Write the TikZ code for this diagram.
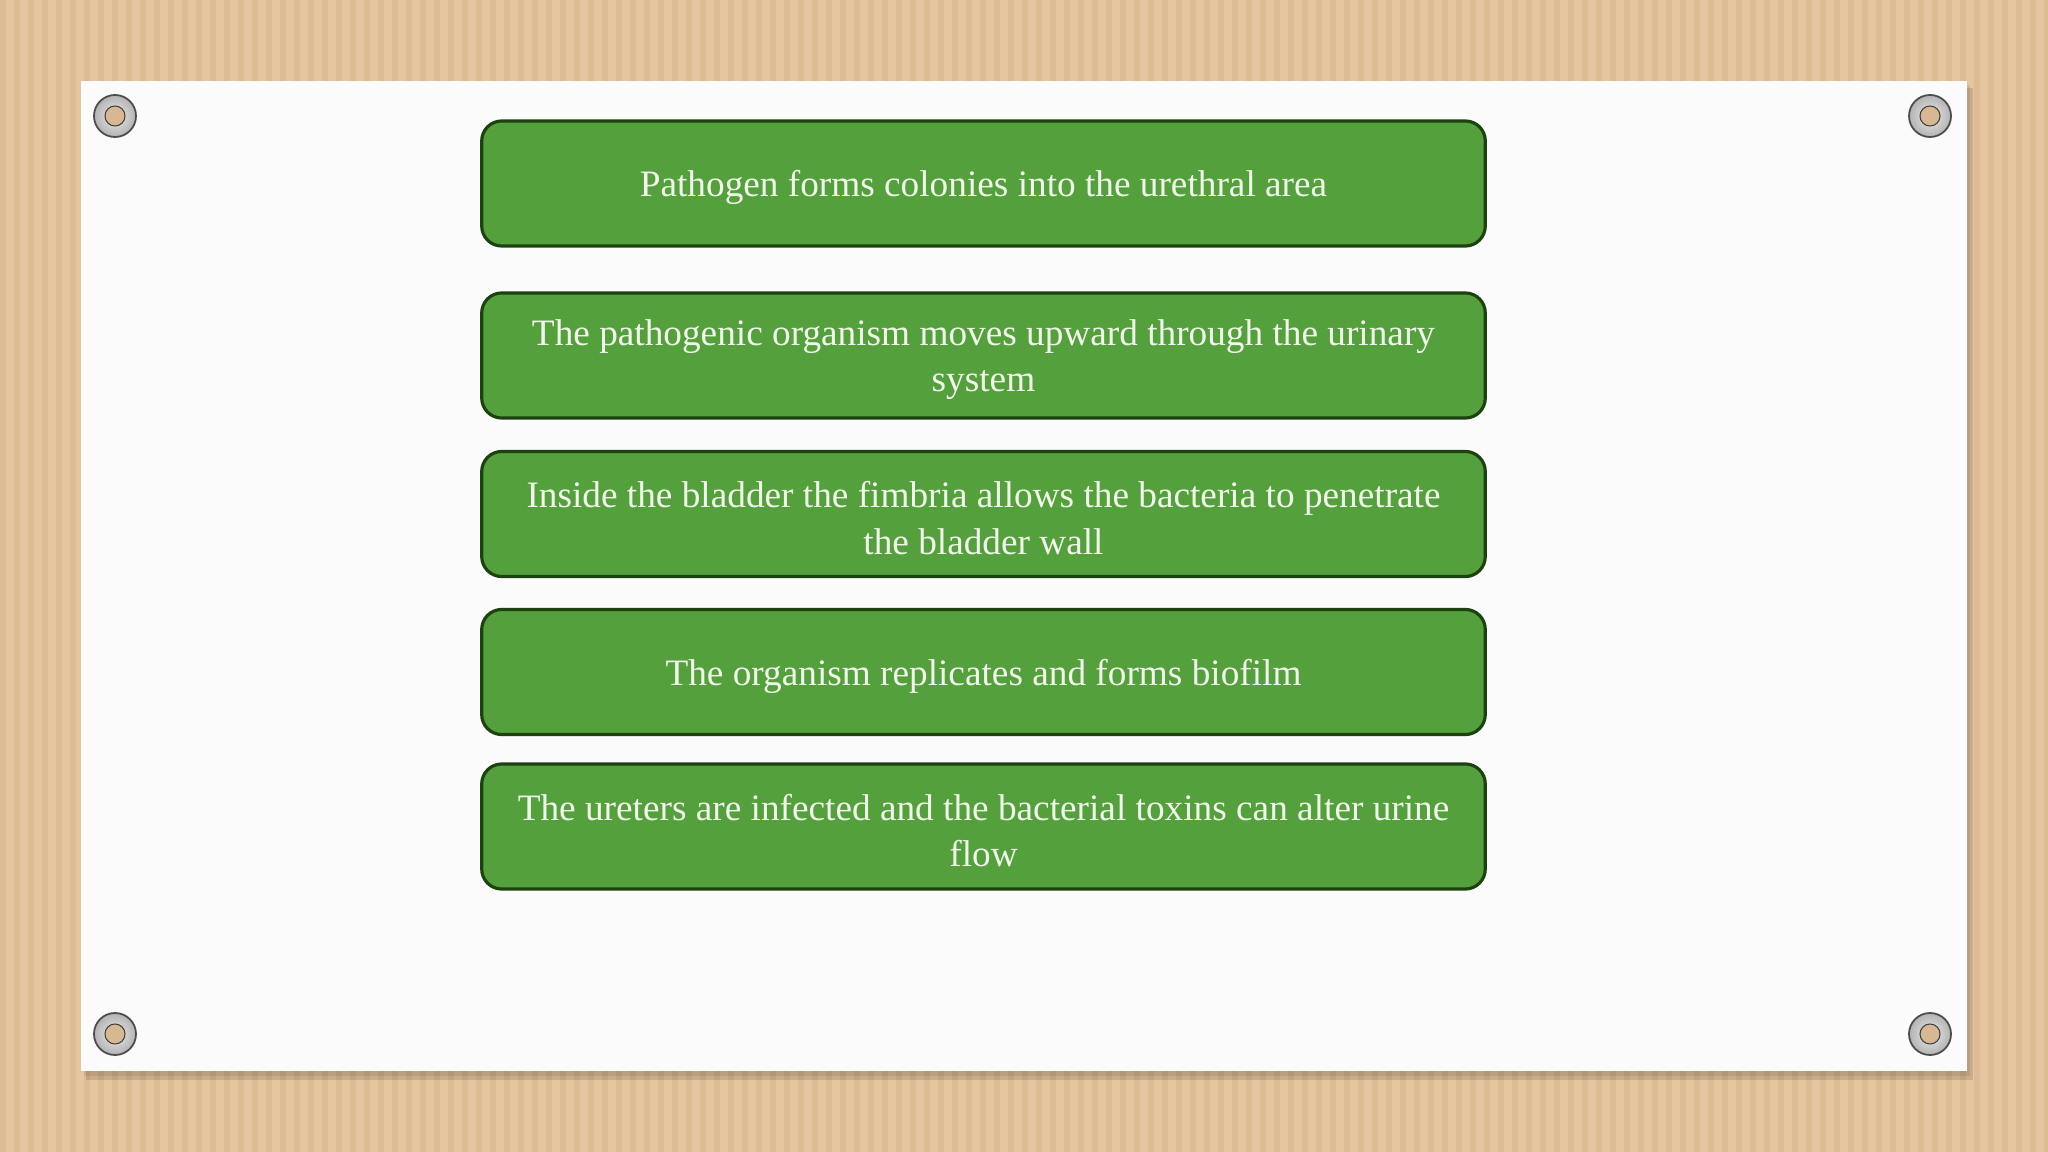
\documentclass[tikz,border=0pt]{standalone}
\usepackage{fontspec}
\setmainfont{Liberation Serif}
\begin{document}
\begin{tikzpicture}[x=0.01cm,y=-0.01cm,
  stepbox/.style={draw=boxedge, fill=boxgreen, line width=0.9pt, rounded corners=0.2cm,
    minimum width=10.03cm, minimum height=1.25cm, inner sep=0pt},
  steptext/.style={text=boxtext, align=center,
    font=\fontsize{10.6pt}{13.2pt}\selectfont, inner sep=0pt},
  screw/.style={circle, minimum size=0.42cm, inner sep=0pt, draw=gray!60!black, line width=0.5pt,
    shading=radial, inner color=gray!15, outer color=gray!60}
]
\definecolor{wood}{RGB}{230,198,160}
\definecolor{wooddark}{RGB}{214,178,136}
\definecolor{boxgreen}{RGB}{84,160,60}
\definecolor{boxedge}{RGB}{28,66,16}
\definecolor{boxtext}{RGB}{242,247,236}
\definecolor{hole}{RGB}{216,184,146}
\useasboundingbox (0,0) rectangle (2048,1152);
% wood background
\fill[wood] (0,0) rectangle (2048,1152);
\foreach \i in {0,14,...,2048} {
  \fill[wooddark, opacity=0.5] (\i,0) rectangle (\i+6,1152);
}
% card shadow and card
\fill[black, opacity=0.12] (86,88) rectangle (1973,1080);
\fill[black, opacity=0.08] (84,85) rectangle (1970,1076);
\fill[white!97!gray] (81,81) rectangle (1967,1071);
% screws
\foreach \n/\x/\y in {s1/115/116, s2/1930/116, s3/115/1034, s4/1930/1034} {
  \node[screw] (\n) at (\x,\y) {};
  \fill[hole] (\x,\y) circle (0.1cm);
  \draw[gray!50!black, line width=0.3pt] (\x,\y) circle (0.1cm);
}
% boxes
\node[stepbox] (b1) at (983.5,183.5) {};
\node[stepbox] (b2) at (983.5,355.5) {};
\node[stepbox] (b3) at (983.5,514) {};
\node[stepbox] (b4) at (983.5,672) {};
\node[stepbox] (b5) at (983.5,826.5) {};
\node[steptext] (t1) at ([yshift=-0.04cm]b1.center) {Pathogen forms colonies into the urethral area};
\node[steptext] (t2) at ([yshift=-0.04cm]b2.center) {The pathogenic organism moves upward through the urinary\\system};
\node[steptext] (t3) at ([yshift=-0.04cm]b3.center) {Inside the bladder the fimbria allows the bacteria to penetrate\\the bladder wall};
\node[steptext] (t4) at ([yshift=-0.04cm]b4.center) {The organism replicates and forms biofilm};
\node[steptext] (t5) at ([yshift=-0.04cm]b5.center) {The ureters are infected and the bacterial toxins can alter urine\\flow};
\end{tikzpicture}
\end{document}
